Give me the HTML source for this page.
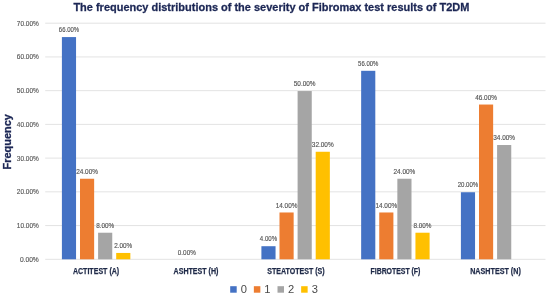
<!DOCTYPE html>
<html><head><meta charset="utf-8"><title>Fibromax frequency chart</title>
<style>html,body{margin:0;padding:0;background:#fff;width:550px;height:297px;overflow:hidden}svg text{font-family:"Liberation Sans", Arial, sans-serif}</style>
</head><body>
<svg width="550" height="297" viewBox="0 0 550 297" style="display:block">
<rect x="0" y="0" width="550" height="297" fill="#ffffff"/>
<rect x="45.2" y="258.80" width="500.30" height="1" fill="#e3e3e3"/>
<rect x="45.2" y="225.07" width="500.30" height="1" fill="#e3e3e3"/>
<rect x="45.2" y="191.34" width="500.30" height="1" fill="#e3e3e3"/>
<rect x="45.2" y="157.61" width="500.30" height="1" fill="#e3e3e3"/>
<rect x="45.2" y="123.88" width="500.30" height="1" fill="#e3e3e3"/>
<rect x="45.2" y="90.15" width="500.30" height="1" fill="#e3e3e3"/>
<rect x="45.2" y="56.42" width="500.30" height="1" fill="#e3e3e3"/>
<rect x="45.2" y="22.69" width="500.30" height="1" fill="#e3e3e3"/>
<text x="38.8" y="261.80" text-anchor="end" font-size="7.1" fill="#595959" stroke="#595959" stroke-width="0.15" textLength="18.9" lengthAdjust="spacingAndGlyphs">0.00%</text>
<text x="38.8" y="228.07" text-anchor="end" font-size="7.1" fill="#595959" stroke="#595959" stroke-width="0.15" textLength="22.0" lengthAdjust="spacingAndGlyphs">10.00%</text>
<text x="38.8" y="194.34" text-anchor="end" font-size="7.1" fill="#595959" stroke="#595959" stroke-width="0.15" textLength="22.0" lengthAdjust="spacingAndGlyphs">20.00%</text>
<text x="38.8" y="160.61" text-anchor="end" font-size="7.1" fill="#595959" stroke="#595959" stroke-width="0.15" textLength="22.0" lengthAdjust="spacingAndGlyphs">30.00%</text>
<text x="38.8" y="126.88" text-anchor="end" font-size="7.1" fill="#595959" stroke="#595959" stroke-width="0.15" textLength="22.0" lengthAdjust="spacingAndGlyphs">40.00%</text>
<text x="38.8" y="93.15" text-anchor="end" font-size="7.1" fill="#595959" stroke="#595959" stroke-width="0.15" textLength="22.0" lengthAdjust="spacingAndGlyphs">50.00%</text>
<text x="38.8" y="59.42" text-anchor="end" font-size="7.1" fill="#595959" stroke="#595959" stroke-width="0.15" textLength="22.0" lengthAdjust="spacingAndGlyphs">60.00%</text>
<text x="38.8" y="25.69" text-anchor="end" font-size="7.1" fill="#595959" stroke="#595959" stroke-width="0.15" textLength="22.0" lengthAdjust="spacingAndGlyphs">70.00%</text>
<g>
<text x="68.97" y="32.28" text-anchor="middle" font-size="7.1" fill="#555555" stroke="#555555" stroke-width="0.15" textLength="20.2" lengthAdjust="spacingAndGlyphs">66.00%</text>
<text x="87.08" y="173.95" text-anchor="middle" font-size="7.1" fill="#555555" stroke="#555555" stroke-width="0.15" textLength="21.8" lengthAdjust="spacingAndGlyphs">24.00%</text>
<text x="105.17" y="227.92" text-anchor="middle" font-size="7.1" fill="#555555" stroke="#555555" stroke-width="0.15" textLength="18.0" lengthAdjust="spacingAndGlyphs">8.00%</text>
<text x="123.28" y="248.15" text-anchor="middle" font-size="7.1" fill="#555555" stroke="#555555" stroke-width="0.15" textLength="18.0" lengthAdjust="spacingAndGlyphs">2.00%</text>
<text x="186.82" y="254.90" text-anchor="middle" font-size="7.1" fill="#555555" stroke="#555555" stroke-width="0.15" textLength="18.0" lengthAdjust="spacingAndGlyphs">0.00%</text>
<text x="268.47" y="241.41" text-anchor="middle" font-size="7.1" fill="#555555" stroke="#555555" stroke-width="0.15" textLength="17.2" lengthAdjust="spacingAndGlyphs">4.00%</text>
<text x="286.57" y="207.68" text-anchor="middle" font-size="7.1" fill="#555555" stroke="#555555" stroke-width="0.15" textLength="21.8" lengthAdjust="spacingAndGlyphs">14.00%</text>
<text x="304.67" y="86.25" text-anchor="middle" font-size="7.1" fill="#555555" stroke="#555555" stroke-width="0.15" textLength="21.8" lengthAdjust="spacingAndGlyphs">50.00%</text>
<text x="322.77" y="146.96" text-anchor="middle" font-size="7.1" fill="#555555" stroke="#555555" stroke-width="0.15" textLength="21.8" lengthAdjust="spacingAndGlyphs">32.00%</text>
<text x="368.22" y="66.01" text-anchor="middle" font-size="7.1" fill="#555555" stroke="#555555" stroke-width="0.15" textLength="20.2" lengthAdjust="spacingAndGlyphs">56.00%</text>
<text x="386.32" y="207.68" text-anchor="middle" font-size="7.1" fill="#555555" stroke="#555555" stroke-width="0.15" textLength="21.8" lengthAdjust="spacingAndGlyphs">14.00%</text>
<text x="404.42" y="173.95" text-anchor="middle" font-size="7.1" fill="#555555" stroke="#555555" stroke-width="0.15" textLength="21.8" lengthAdjust="spacingAndGlyphs">24.00%</text>
<text x="422.52" y="227.92" text-anchor="middle" font-size="7.1" fill="#555555" stroke="#555555" stroke-width="0.15" textLength="18.0" lengthAdjust="spacingAndGlyphs">8.00%</text>
<text x="467.97" y="187.44" text-anchor="middle" font-size="7.1" fill="#555555" stroke="#555555" stroke-width="0.15" textLength="20.6" lengthAdjust="spacingAndGlyphs">20.00%</text>
<text x="486.07" y="99.74" text-anchor="middle" font-size="7.1" fill="#555555" stroke="#555555" stroke-width="0.15" textLength="21.8" lengthAdjust="spacingAndGlyphs">46.00%</text>
<text x="504.17" y="140.22" text-anchor="middle" font-size="7.1" fill="#555555" stroke="#555555" stroke-width="0.15" textLength="21.8" lengthAdjust="spacingAndGlyphs">34.00%</text>
</g>
<g>
<rect x="61.90" y="37.08" width="14.15" height="222.22" fill="#4472C4"/>
<rect x="80.00" y="178.75" width="14.15" height="80.55" fill="#ED7D31"/>
<rect x="98.10" y="232.72" width="14.15" height="26.58" fill="#A5A5A5"/>
<rect x="116.20" y="252.95" width="14.15" height="6.35" fill="#FFC000"/>
<rect x="261.40" y="246.21" width="14.15" height="13.09" fill="#4472C4"/>
<rect x="279.50" y="212.48" width="14.15" height="46.82" fill="#ED7D31"/>
<rect x="297.60" y="91.05" width="14.15" height="168.25" fill="#A5A5A5"/>
<rect x="315.70" y="151.76" width="14.15" height="107.54" fill="#FFC000"/>
<rect x="361.15" y="70.81" width="14.15" height="188.49" fill="#4472C4"/>
<rect x="379.25" y="212.48" width="14.15" height="46.82" fill="#ED7D31"/>
<rect x="397.35" y="178.75" width="14.15" height="80.55" fill="#A5A5A5"/>
<rect x="415.45" y="232.72" width="14.15" height="26.58" fill="#FFC000"/>
<rect x="460.90" y="192.24" width="14.15" height="67.06" fill="#4472C4"/>
<rect x="479.00" y="104.54" width="14.15" height="154.76" fill="#ED7D31"/>
<rect x="497.10" y="145.02" width="14.15" height="114.28" fill="#A5A5A5"/>
</g>
<text x="96.05" y="273.8" text-anchor="middle" font-size="8.6" font-weight="bold" fill="#1f2a48" stroke="#1f2a48" stroke-width="0.25" textLength="46.3" lengthAdjust="spacingAndGlyphs">ACTITEST (A)</text>
<text x="196.00" y="273.8" text-anchor="middle" font-size="8.6" font-weight="bold" fill="#1f2a48" stroke="#1f2a48" stroke-width="0.25" textLength="44.8" lengthAdjust="spacingAndGlyphs">ASHTEST (H)</text>
<text x="295.90" y="273.8" text-anchor="middle" font-size="8.6" font-weight="bold" fill="#1f2a48" stroke="#1f2a48" stroke-width="0.25" textLength="57.4" lengthAdjust="spacingAndGlyphs">STEATOTEST (S)</text>
<text x="395.45" y="273.8" text-anchor="middle" font-size="8.6" font-weight="bold" fill="#1f2a48" stroke="#1f2a48" stroke-width="0.25" textLength="49.9" lengthAdjust="spacingAndGlyphs">FIBROTEST (F)</text>
<text x="495.50" y="273.8" text-anchor="middle" font-size="8.6" font-weight="bold" fill="#1f2a48" stroke="#1f2a48" stroke-width="0.25" textLength="50.6" lengthAdjust="spacingAndGlyphs">NASHTEST (N)</text>
<text x="73.4" y="11.2" font-size="11.8" font-weight="bold" fill="#1c2755" stroke="#1c2755" stroke-width="0.3" textLength="396" lengthAdjust="spacingAndGlyphs">The frequency distributions of the severity of Fibromax test results of T2DM</text>
<text transform="translate(11.2,169.4) rotate(-90)" x="0" y="0" font-size="11.6" font-weight="bold" fill="#1c2755" stroke="#1c2755" stroke-width="0.3" textLength="55.3" lengthAdjust="spacingAndGlyphs">Frequency</text>
<rect x="230.20" y="286.2" width="6.5" height="6.5" fill="#4472C4"/>
<text x="240.70" y="292.9" font-size="10.0" fill="#4a4a4a" textLength="6.2" lengthAdjust="spacingAndGlyphs">0</text>
<rect x="253.85" y="286.2" width="6.5" height="6.5" fill="#ED7D31"/>
<text x="264.35" y="292.9" font-size="10.0" fill="#4a4a4a" textLength="6.2" lengthAdjust="spacingAndGlyphs">1</text>
<rect x="277.50" y="286.2" width="6.5" height="6.5" fill="#A5A5A5"/>
<text x="288.00" y="292.9" font-size="10.0" fill="#4a4a4a" textLength="6.2" lengthAdjust="spacingAndGlyphs">2</text>
<rect x="301.15" y="286.2" width="6.5" height="6.5" fill="#FFC000"/>
<text x="311.65" y="292.9" font-size="10.0" fill="#4a4a4a" textLength="6.2" lengthAdjust="spacingAndGlyphs">3</text>
</svg>
</body></html>
